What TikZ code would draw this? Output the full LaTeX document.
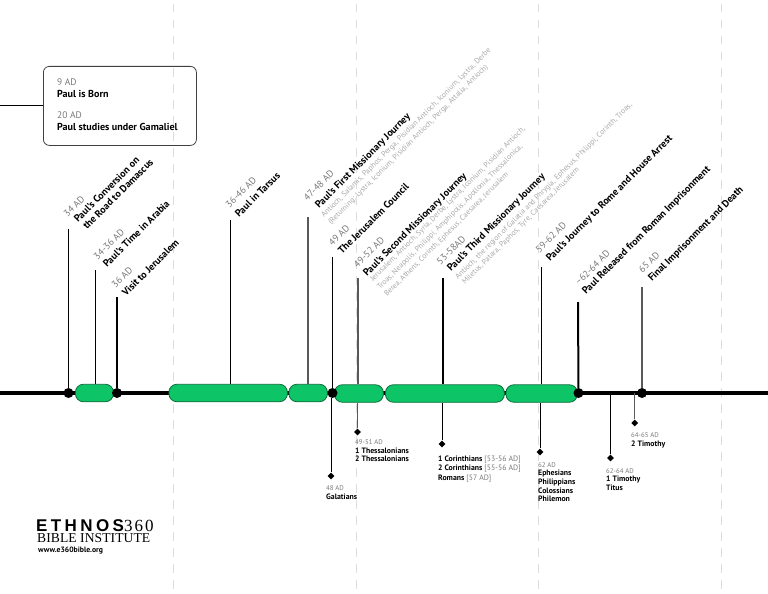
\documentclass[tikz,border=0pt]{standalone}
\usepackage{fontspec}
\setmainfont{PT Sans}
\newfontfamily\logoserif[LetterSpace=0.5]{Liberation Serif}
\newfontfamily\logosans[LetterSpace=20]{Liberation Sans}
\newfontfamily\logoserifsp[LetterSpace=12]{Liberation Serif}
\usetikzlibrary{shapes.geometric}
\definecolor{pillgreen}{HTML}{0DC566}
\definecolor{pilledge}{HTML}{0B6B3C}
\definecolor{dategray}{HTML}{777777}
\definecolor{subgray}{HTML}{A8A8A8}
\definecolor{dashgray}{HTML}{DDDDDD}
\tikzset{
  dashline/.style={draw=dashgray,line width=0.9pt,dash pattern=on 8.5pt off 7.5pt,dash phase=12pt},
  axis/.style={line width=3.6pt,black},
  pill/.style={draw=pilledge,fill=pillgreen,line width=0.8pt,rounded corners=8pt,minimum height=17.5pt,inner sep=0pt,anchor=west},
  dot/.style={circle,fill=black,inner sep=0pt,minimum size=10pt},
  tip/.style={diamond,fill=black,inner sep=0pt,minimum size=7pt},
  conn/.style={line width=1pt,black},
  connthick/.style={line width=2pt,black},
  conngray/.style={line width=1.4pt,black!65},
  rdate/.style={rotate=45,anchor=base west,inner sep=0pt,text=dategray,font=\fontsize{9.6}{10}\selectfont},
  rtitle/.style={rotate=45,anchor=base west,inner sep=0pt,text=black,font=\fontsize{10}{10}\selectfont\bfseries},
  rsub/.style={rotate=45,anchor=base west,inner sep=0pt,text=subgray,font=\fontsize{7.65}{8}\selectfont},
  bdate/.style={anchor=base west,inner sep=0pt,text=dategray,font=\fontsize{6.8}{7}\selectfont},
  btitle/.style={anchor=base west,inner sep=0pt,text=black,font=\fontsize{7.8}{8}\selectfont\bfseries},
  bxdate/.style={anchor=base west,inner sep=0pt,text=dategray,font=\fontsize{9.5}{10}\selectfont},
  bxtitle/.style={anchor=base west,inner sep=0pt,text=black,font=\fontsize{10.1}{10}\selectfont\bfseries},
}
\begin{document}
\begin{tikzpicture}[x=1pt,y=-1pt]
\useasboundingbox (0,0) rectangle (768,594);
% dashed guides
\foreach \n/\x in {a/173.5,b/356,c/538.5,d/721.7}{
  \coordinate (g\n t) at (\x,0);
  \coordinate (g\n b) at (\x,594);
  \draw[dashline] (g\n t) -- (g\n b);
}
% axis
\coordinate (axl) at (0,393);
\coordinate (axr) at (768,393);
\draw[axis] (axl) -- (axr);
% connectors' free ends
\coordinate (u1) at (68.5,229);
\coordinate (u2) at (95.5,270);
\coordinate (u3) at (117,297);
\coordinate (u4) at (230.5,220);
\coordinate (u5) at (308,217);
\coordinate (u6) at (332.5,257);
\coordinate (u7) at (358,278);
\coordinate (u8) at (443,278);
\coordinate (u9) at (541,267);
\coordinate (u10) at (578,302);
\coordinate (u11) at (642,287);
% pills
\node[pill,minimum width=38pt] (p1) at (75,393) {};
\node[pill,minimum width=118.5pt] (p2) at (168.5,393) {};
\node[pill,minimum width=38.5pt] (p3) at (288.5,393) {};
\node[pill,minimum width=49pt] (p4) at (334,393.5) {};
\node[pill,minimum width=119pt] (p5) at (385,393.5) {};
\node[pill,minimum width=71.5pt] (p6) at (505.5,393.5) {};
% dots
\node[dot] (d1) at (68.5,393) {};
\node[dot] (d2) at (117,393) {};
\node[dot] (d3) at (332.5,393) {};
\node[dot] (d4) at (578.5,393) {};
\node[dot] (d5) at (642,393) {};
% diamonds
\node[tip] (t1) at (331,476) {};
\node[tip] (t2) at (357.5,432) {};
\node[tip] (t3) at (442,444) {};
\node[tip] (t4) at (540,452) {};
\node[tip] (t5) at (610.5,458) {};
\node[tip] (t6) at (634.7,423) {};
% up connectors
\draw[conn] (u1) -- (d1);
\draw[conn] (u2) -- (u2 |- p1.north);
\draw[connthick] (u3) -- (d2);
\draw[conn] (u4) -- (u4 |- p2.north);
\draw[conngray] (u5) -- (u5 |- p3.north);
\draw[conn] (u6) -- (d3);
\draw[conngray] (u7) -- (u7 |- p4.north);
\draw[connthick] (u8) -- (u8 |- p5.north);
\draw[conn] (u9) -- (u9 |- p6.north);
\draw[connthick] (u10) -- (d4);
\draw[conngray] (u11) -- (d5);
% down connectors
\draw[conn] (t1) -- (t1 |- d3.south);
\draw[conngray] (t2) -- (t2 |- p4.south);
\draw[conn] (t3) -- (t3 |- p5.south);
\draw[conn] (t4) -- (t4 |- p6.south);
\draw[conn] (t5) -- (t5 |- axl);
\draw[conngray] (t6) -- (t6 |- axl);
% early-life box
\node[draw=black!75,line width=0.8pt,rounded corners=6pt,minimum width=153pt,minimum height=79pt,anchor=north west,inner sep=0pt] (box) at (43,66) {};
\coordinate (boxl) at (0,105.5);
\draw[conn] (boxl) -- (boxl -| box.west);
\node[bxdate] (bx1) at (57,85.5) {9 AD};
\node[bxtitle] (bx2) at (57,97) {Paul is Born};
\node[bxdate] (bx3) at (57,118.5) {20 AD};
\node[bxtitle] (bx4) at (57,130) {Paul studies under Gamaliel};
% rotated labels
\node[rdate] (l1) at (67.5,217.5) {34 AD};
\node[rtitle] (l1a) at (78,223) {Paul's Conversion on};
\node[rtitle] (l1b) at (87,230) {the Road to Damascus};
\node[rdate] (l2) at (97.5,260.5) {34-36 AD};
\node[rtitle] (l2a) at (107,268) {Paul's Time in Arabia};
\node[rdate] (l3) at (115.5,288.5) {36 AD};
\node[rtitle] (l3a) at (126,297) {Visit to Jerusalem};
\node[rdate] (l4) at (229.5,208.5) {36-46 AD};
\node[rtitle] (l4a) at (239,218) {Paul in Tarsus};
\node[rdate] (l5) at (307.5,201.5) {47-48 AD};
\node[rtitle] (l5a) at (319,209) {Paul's First Missionary Journey};
\node[rsub] (l5b) at (324,218) {Antioch, Salamis, Paphos, Perga, Pisidian Antioch, Iconium, Lystra, Derbe};
\node[rsub] (l5c) at (331,225) {(Returning: Lystra, Iconium, Pisidian Antioch, Perga, Attalia, Antioch)};
\node[rdate] (l6) at (332.5,246.5) {49 AD};
\node[rtitle] (l6a) at (342,255) {The Jerusalem Council};
\node[rdate] (l7) at (357.5,268.5) {49-52 AD};
\node[rtitle] (l7a) at (367,277) {Paul's Second Missionary Journey};
\node[rsub] (l7b) at (373,282) {Jerusalem, Antioch, Syria, Derbe, Lystra, Iconium, Pisidian Antioch,};
\node[rsub] (l7c) at (380,290) {Troas, Neapolis, Philippi, Amphipolis, Apollonia, Thessalonica,};
\node[rsub] (l7d) at (387,297) {Berea, Athens, Corinth, Ephesus, Caesarea, Jerusalem};
\node[rdate] (l8) at (440.5,265.5) {53-58AD};
\node[rtitle] (l8a) at (451,272) {Paul's Third Missionary Journey};
\node[rsub] (l8b) at (458,280) {Antioch, the region of Galatia and Phrygia, Ephesus, Philippi, Corinth, Troas,};
\node[rsub] (l8c) at (465,285) {Miletus, Patara, Paphos, Tyre, Caesarea, Jerusalem};
\node[rdate] (l9) at (539.5,253.5) {59-62 AD};
\node[rtitle] (l9a) at (550,262) {Paul's Journey to Rome and House Arrest};
\node[rdate] (l10) at (579.5,285.5) {\textasciitilde 62-64 AD};
\node[rtitle] (l10a) at (586,295) {Paul Released from Roman Imprisonment};
\node[rdate] (l11) at (642.5,273.5) {65 AD};
\node[rtitle] (l11a) at (652,282) {Final Imprisonment and Death};
% lower labels
\node[bdate] (b1) at (326,490) {48 AD};
\node[btitle] (b1a) at (326,499) {Galatians};
\node[bdate] (b2) at (355,444) {49-51 AD};
\node[btitle] (b2a) at (355,453.5) {1 Thessalonians};
\node[btitle] (b2b) at (355,461.5) {2 Thessalonians};
\node[btitle] (b3a) at (438,461.5) {1 Corinthians \textcolor{dategray}{\mdseries [53-56 AD]}};
\node[btitle] (b3b) at (438,470.5) {2 Corinthians \textcolor{dategray}{\mdseries [55-56 AD]}};
\node[btitle] (b3c) at (438,480) {Romans \textcolor{dategray}{\mdseries [57 AD]}};
\node[bdate] (b4) at (538,467) {62 AD};
\node[btitle] (b4a) at (538,475) {Ephesians};
\node[btitle] (b4b) at (538,484) {Philippians};
\node[btitle] (b4c) at (538,493) {Colossians};
\node[btitle] (b4d) at (538,501.5) {Philemon};
\node[bdate] (b5) at (606,473) {62-64 AD};
\node[btitle] (b5a) at (606,481) {1 Timothy};
\node[btitle] (b5b) at (606,490) {Titus};
\node[bdate] (b6) at (631,437) {64-65 AD};
\node[btitle] (b6a) at (631,446) {2 Timothy};
% logo
\node[anchor=base west,inner sep=0pt,font=\fontsize{17}{17}\selectfont] (logo1) at (36,531) {{\logosans\bfseries ETHNOS}{\logoserifsp 360}};
\node[anchor=base west,inner sep=0pt,font=\fontsize{13.6}{14}\selectfont\logoserif] (logo2) at (37,542.5) {BIBLE INSTITUTE};
\node[anchor=base west,inner sep=0pt,font=\fontsize{7.7}{8}\selectfont\bfseries] (logo3) at (38,552.5) {www.e360bible.org};
\end{tikzpicture}
\end{document}
